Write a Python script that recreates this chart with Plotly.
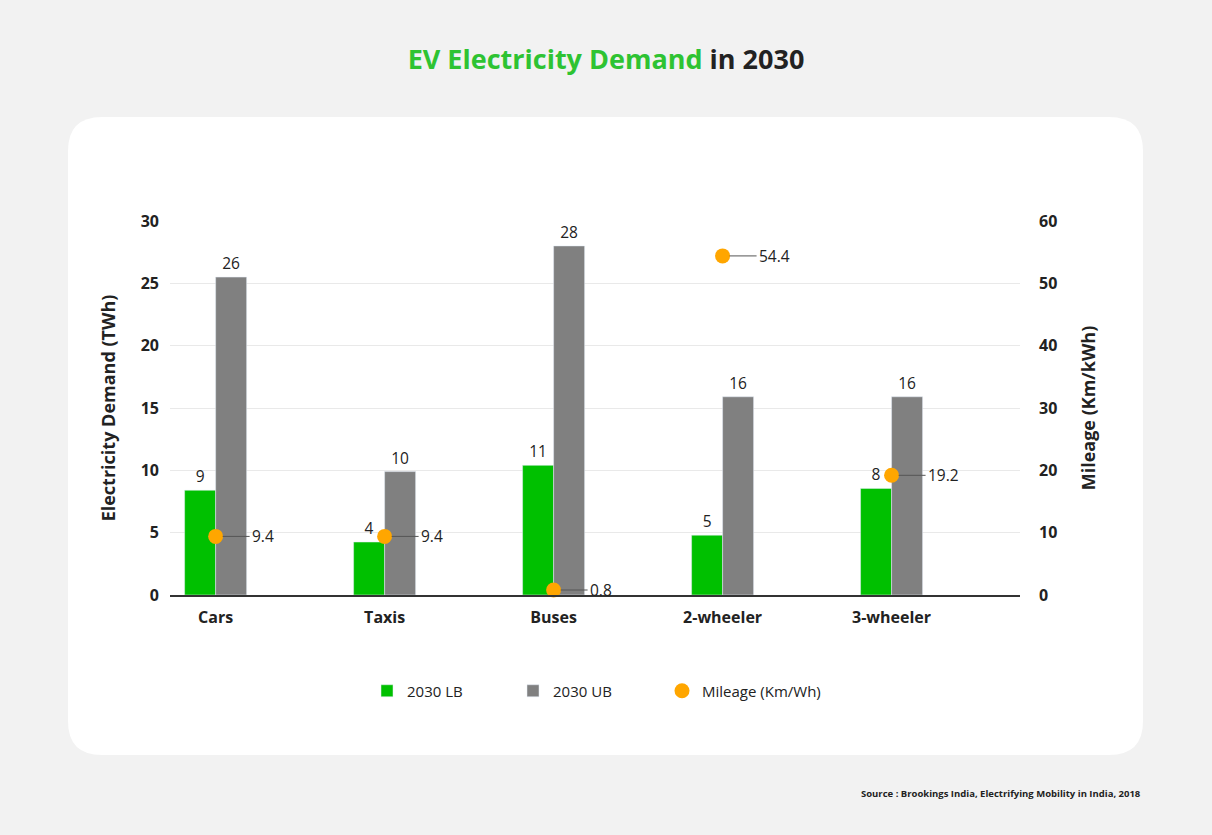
import plotly.graph_objects as go
from plotly.subplots import make_subplots

# ---- data ----
categories = ["Cars", "Taxis", "Buses", "2-wheeler", "3-wheeler"]
lb_values = [8.4, 4.25, 10.4, 4.8, 8.55]
lb_labels = ["9", "4", "11", "5", "8"]
ub_values = [25.5, 9.9, 28.0, 15.9, 15.9]
ub_labels = ["26", "10", "28", "16", "16"]
mileage = [9.4, 9.4, 0.8, 54.4, 19.2]
mileage_labels = ["9.4", "9.4", "0.8", "54.4", "19.2"]
y_ticks = [0, 5, 10, 15, 20, 25, 30]
y2_ticks = [0, 10, 20, 30, 40, 50, 60]

FONT = "Open Sans, Lato, sans-serif"
GREEN = "#00c000"
GRAY = "#808080"
ORANGE = "#ffa600"
DARK = "#222222"

fig = make_subplots(specs=[[{"secondary_y": True}]])

fig.add_trace(go.Bar(x=categories, y=lb_values, name="2030 LB", marker_color=GREEN,
                     text=lb_labels, textposition="outside", cliponaxis=False,
                     textfont=dict(size=15.5, color=DARK, family=FONT),
                     legend="legend"), secondary_y=False)
fig.add_trace(go.Bar(x=categories, y=ub_values, name="2030 UB", marker_color=GRAY,
                     text=ub_labels, textposition="outside", cliponaxis=False,
                     textfont=dict(size=15.5, color=DARK, family=FONT),
                     legend="legend2"), secondary_y=False)
fig.add_trace(go.Scatter(x=categories, y=mileage, name="Mileage (Km/Wh)", mode="markers",
                         marker=dict(color=ORANGE, size=15), cliponaxis=False,
                         legend="legend3"),
              secondary_y=True)

for cat, v, lbl in zip(categories, mileage, mileage_labels):
    fig.add_annotation(x=cat, y=v, xref="x", yref="y2", text=lbl, showarrow=True,
                       arrowhead=0, arrowwidth=1, arrowcolor="#555555", ax=34, ay=0,
                       xanchor="left", yanchor="middle", standoff=7,
                       font=dict(size=15.5, color=DARK, family=FONT))

# plot area: x 170..1020, y 221..595
L, R, T, B = 170, 192, 221, 240
W, H = 1212 - L - R, 835 - T - B

def px(x):
    return (x - L) / W

def py(y):
    return (835 - B - y) / H

x0, x1, y0, y1 = px(68), px(1143), py(755), py(117)
rx, ry = 34 / W, 34 / H
path = (f"M {x0+rx},{y1} L {x1-rx},{y1} Q {x1},{y1} {x1},{y1-ry} "
        f"L {x1},{y0+ry} Q {x1},{y0} {x1-rx},{y0} L {x0+rx},{y0} "
        f"Q {x0},{y0} {x0},{y0+ry} L {x0},{y1-ry} Q {x0},{y1} {x0+rx},{y1} Z")
fig.add_shape(type="path", path=path, xref="paper", yref="paper",
              fillcolor="white", line=dict(width=0), layer="below")

fig.add_annotation(x=px(1143), y=py(793), xref="paper", yref="paper",
                   text="<b>Source : Brookings India, Electrifying Mobility in India, 2018</b>",
                   showarrow=False, xanchor="right", yanchor="middle",
                   font=dict(size=9.5, color=DARK, family=FONT))

leg_font = dict(size=15, color=DARK, family=FONT)
def leg(text_start):
    return dict(orientation="h", x=px(text_start - 41), xanchor="left", y=py(691),
                yanchor="middle", font=leg_font, bgcolor="rgba(0,0,0,0)")

fig.update_layout(
    width=1212, height=835,
    margin=dict(l=L, r=R, t=T, b=B),
    paper_bgcolor="#f2f2f2", plot_bgcolor="rgba(0,0,0,0)",
    font=dict(family=FONT, color=DARK),
    title=dict(text="<b><span style='color:#2ec332'>EV Electricity Demand</span> in 2030</b>",
               x=px(606), xref="paper", xanchor="center", y=1 - 60 / 835, yanchor="middle",
               font=dict(size=27, color=DARK, family=FONT)),
    barmode="group", bargap=0.633, bargroupgap=0,
    showlegend=True,
    legend=leg(408), legend2=leg(554), legend3=leg(703),
)

tick_font = dict(size=16, color=DARK, family=FONT, weight="bold")
title_font = dict(size=18, color=DARK, family=FONT, weight="bold")

fig.update_xaxes(type="category", range=[-0.27, 4.76], domain=[0, 1], showgrid=False,
                 showline=True, linecolor="#333333", linewidth=1.5,
                 tickfont=tick_font, ticklabelstandoff=7)
fig.update_yaxes(range=[0, 30], tickvals=y_ticks, gridcolor="#e9e9e9", zeroline=False,
                 tickfont=tick_font, ticklabelstandoff=10,
                 title=dict(text="Electricity Demand (TWh)", standoff=20, font=title_font),
                 secondary_y=False)
fig.update_yaxes(range=[0, 60], tickvals=y2_ticks, showgrid=False, zeroline=False,
                 tickfont=tick_font, ticklabelstandoff=18,
                 title=dict(text="Mileage (Km/kWh)", standoff=26, font=title_font),
                 secondary_y=True)

fig.write_html("out.html")
